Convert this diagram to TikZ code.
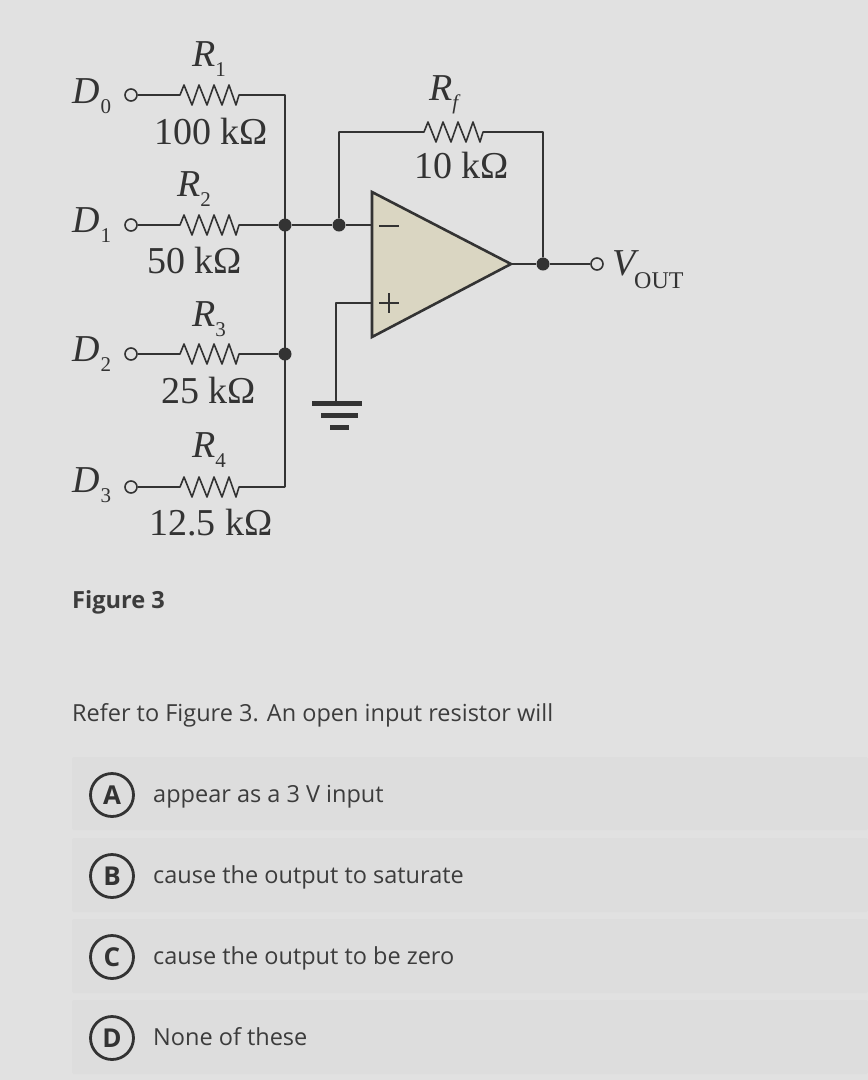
\documentclass[tikz,border=0pt]{standalone}
\usepackage{fontspec}
\setmainfont{Liberation Serif}
\newfontfamily\uifont{Open Sans}
\definecolor{bg}{HTML}{E1E1E1}
\definecolor{bar}{HTML}{DDDDDD}
\definecolor{ink}{HTML}{333333}
\definecolor{uitext}{HTML}{3C3C3C}
\definecolor{amp}{HTML}{DAD6C2}
\newcommand{\circfont}{\fontsize{38}{38}\selectfont}
\newcommand{\subfont}{\fontsize{21}{21}\selectfont}
\newcommand{\Rsub}[1]{{\itshape R}\raisebox{-10pt}{\subfont #1}}
\newcommand{\Dsub}[1]{{\itshape D}\hspace{1pt}\raisebox{-10pt}{\subfont #1}}
\tikzset{
  x=1pt,y=-1pt,
  wire/.style={draw=ink,line width=1.6pt,line join=round},
  term/.style={circle,draw=ink,line width=1.6pt,fill=bg,minimum size=12pt,inner sep=0pt},
  junction/.style={circle,fill=ink,minimum size=13pt,inner sep=0pt},
  clabel/.style={anchor=base west,inner sep=0pt,text=ink,font=\circfont},
  uilabel/.style={anchor=base west,inner sep=0pt,text=uitext,font=\uifont\fontsize{23.5}{24}\selectfont},
  optbar/.style={fill=bar,rounded corners=2pt,draw=none},
  optbadge/.style={circle,draw=ink,line width=2.8pt,minimum size=43pt,inner sep=0pt,text=ink,font=\uifont\bfseries\fontsize{26}{26}\selectfont},
  gbar/.style={draw=ink,line cap=butt}
}
\newcommand{\zig}{%
  -- ++(4,-10) -- ++(8,20) -- ++(7,-20) -- ++(8,20) -- ++(7,-20) -- ++(8,20) -- ++(7,-20) -- ++(7,20) -- ++(3,-10)}
\begin{document}
\begin{tikzpicture}
\useasboundingbox (0,0) rectangle (868,1080);
\fill[bg] (0,0) rectangle (868,1080);
% option bars
\fill[optbar] (72,757) rectangle (868,830);
\fill[optbar] (72,838) rectangle (868,912);
\fill[optbar] (72,919) rectangle (868,993);
\fill[optbar] (72,1000) rectangle (868,1074);
% terminals & junctions
\node[term] (t0) at (131,95) {};
\node[term] (t1) at (131,225) {};
\node[term] (t2) at (131,354) {};
\node[term] (t3) at (131,487) {};
\node[term] (tout) at (597,264) {};
\coordinate (r0a) at (180,95);
\coordinate (r1a) at (180,225);
\coordinate (r2a) at (180,354);
\coordinate (r3a) at (180,487);
\coordinate (rfa) at (424,132);
\coordinate (bustop) at (285,95);
\coordinate (busbot) at (285,487);
\coordinate (fbl) at (339,132);
\coordinate (fbr) at (543,132);
\coordinate (gndtop) at (336,403);
\coordinate (pk) at (336,303);
\coordinate (ampA) at (372,192);
\coordinate (ampB) at (511,264);
\coordinate (ampC) at (372,337);
\coordinate (inm) at (372,225);
\coordinate (inp) at (372,303);
\node[junction] (j1) at (285,225) {};
\node[junction] (j2) at (285,354) {};
\node[junction] (j3) at (339,225) {};
\node[junction] (j4) at (543,264) {};
% wires
\draw[wire] (t0) -- (r0a) \zig -- (bustop) -- (busbot);
\draw[wire] (t1) -- (r1a) \zig -- (j1);
\draw[wire] (t2) -- (r2a) \zig -- (j2);
\draw[wire] (t3) -- (r3a) \zig -- (busbot);
\draw[wire] (j1) -- (j3) -- (inm);
\draw[wire] (j3) -- (fbl) -- (rfa) \zig -- (fbr) -- (j4);
\draw[wire] (ampB) -- (j4) -- (tout);
\draw[wire] (inp) -- (pk) -- (gndtop);
% op amp
\filldraw[fill=amp,draw=ink,line width=2.6pt,line join=miter] (ampA) -- (ampB) -- (ampC) -- cycle;
\draw[draw=ink,line width=1.8pt] (379,226) -- (399,226);
\draw[draw=ink,line width=1.2pt] (379,303) -- (399,303) (389,293) -- (389,313);
% ground
\draw[gbar,line width=5pt] (312,403) -- (362,403);
\draw[gbar,line width=5pt] (321,415) -- (358,415);
\draw[gbar,line width=5pt] (330,427) -- (349,427);
% circuit labels
\node[clabel] (ld0) at (72,103) {\Dsub{0}};
\node[clabel] (ld1) at (72,232) {\Dsub{1}};
\node[clabel] (ld2) at (72,361) {\Dsub{2}};
\node[clabel] (ld3) at (72,492) {\Dsub{3}};
\node[clabel] (lr1) at (192,66) {\Rsub{1}};
\node[clabel] (lv1) at (154,144) {100 kΩ};
\node[clabel] (lr2) at (177,196) {\Rsub{2}};
\node[clabel] (lv2) at (147,273) {50 kΩ};
\node[clabel] (lr3) at (192,326) {\Rsub{3}};
\node[clabel] (lv3) at (161,403) {25 kΩ};
\node[clabel] (lr4) at (192,457) {\Rsub{4}};
\node[clabel] (lv4) at (149,535) {12.5 kΩ};
\node[clabel] (lrf) at (429,100) {{\itshape R}\raisebox{-9pt}{\subfont\itshape f}};
\node[clabel] (lvf) at (414,178) {10 kΩ};
\node[clabel] (lvo) at (612,275) {{\itshape V}};
\node[clabel,font=\fontsize{24}{24}\selectfont] (lout) at (634,288) {OUT};
% question
\node[uilabel,font=\uifont\bfseries\fontsize{23.6}{24}\selectfont] (fig) at (72,608) {Figure 3};
\node[uilabel] (q) at (72,721) {Refer to Figure 3. An open input resistor will};
\node[optbadge] (ba) at (112,795) {A};
\node[optbadge] (bb) at (112,876) {B};
\node[optbadge] (bc) at (112,957) {C};
\node[optbadge] (bd) at (112,1038) {D};
\node[uilabel] (oa) at (153,802) {appear as a 3 V input};
\node[uilabel] (ob) at (153,883) {cause the output to saturate};
\node[uilabel] (oc) at (153,964) {cause the output to be zero};
\node[uilabel] (od) at (153,1045) {None of these};
\end{tikzpicture}
\end{document}
